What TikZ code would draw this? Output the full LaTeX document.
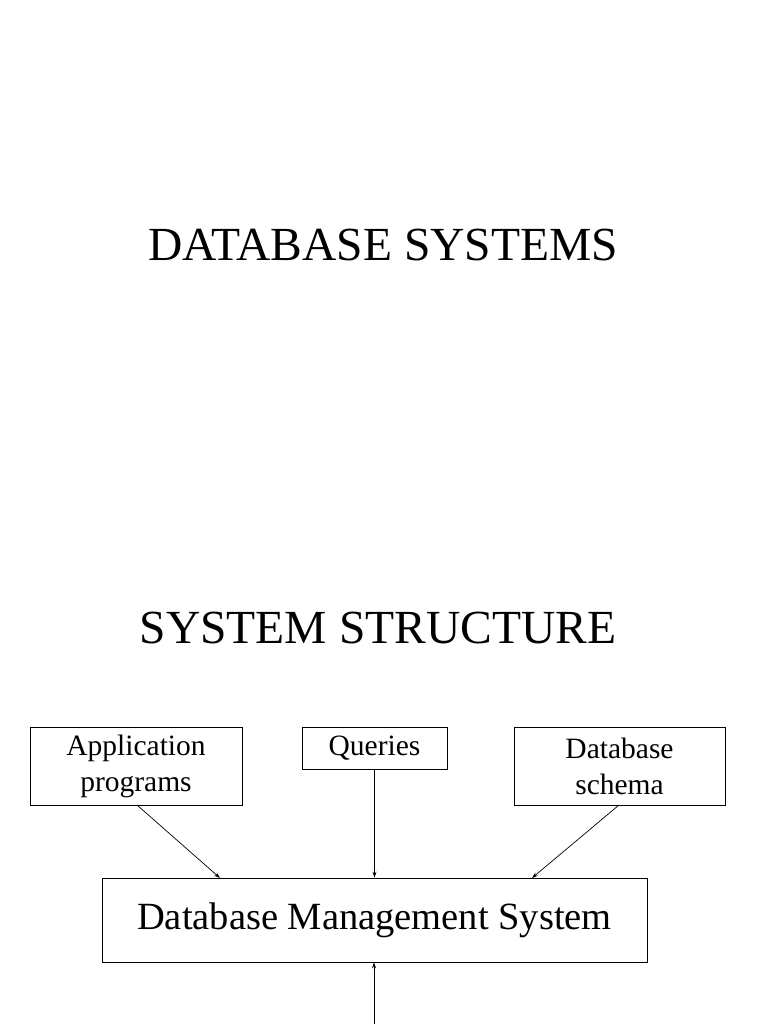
\documentclass[tikz,border=0pt]{standalone}
\usepackage{fontspec}
\setmainfont{Liberation Serif}
\usetikzlibrary{arrows.meta}
\begin{document}
\begin{tikzpicture}[x=1pt,y=-1pt,
  box/.style={draw,line width=0.8pt,inner sep=0pt,align=center,font=\fontsize{29.5}{36}\selectfont},
  conn/.style={line width=0.7pt,-{Stealth[length=6pt,width=4pt]}}]
\useasboundingbox (0,0) rectangle (768,1024);
\node (t1) at (383,245) {\fontsize{47.5}{52}\selectfont DATABASE SYSTEMS};
\node (t2) at (378,628) {\fontsize{47.5}{52}\selectfont SYSTEM STRUCTURE};
\node[box,minimum width=212pt,minimum height=78pt] (app) at (136,766) {Application\\programs};
\node[box,minimum width=145pt,minimum height=42pt] (q) at (374.5,748) {Queries};
\node[box,minimum width=211pt,minimum height=78pt] (sch) at (619.5,766) {Database\\schema};
\node[box,minimum width=545pt,minimum height=84pt,font=\fontsize{38.5}{42}\selectfont] (dbms) at (374.5,920) {Database Management System};
\coordinate (bot) at (374,1024);
\draw[conn] (137,805) -- (220,878);
\draw[conn] (q.south) -- (q.south |- dbms.north);
\draw[conn] (619,805) -- (532,878);
\draw[conn] (bot) -- (bot |- dbms.south);
\end{tikzpicture}
\end{document}
